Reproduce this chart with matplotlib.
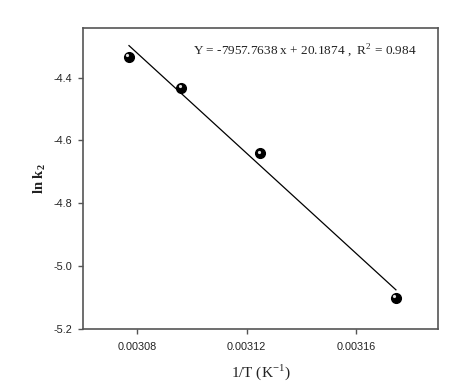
import numpy as np
import matplotlib
matplotlib.use("Agg")
import matplotlib.pyplot as plt
from matplotlib.transforms import offset_copy
from matplotlib.ticker import FixedLocator, FormatStrFormatter

# data
inv_T = [1 / 325, 1 / 323, 1 / 320, 1 / 315]
ln_k2 = [-4.333, -4.432, -4.640, -5.100]

# fit printed on the chart
slope = -7957.7638
intercept = 20.1874
r2 = 0.984

x_ticks = [0.00308, 0.00312, 0.00316]
y_ticks = [-5.2, -5.0, -4.8, -4.6, -4.4]

serif = "Liberation Serif"
sans = "Liberation Sans"
frame_col = "#555555"

fig = plt.figure(figsize=(4.74, 3.86), dpi=100)
ax = fig.add_axes([83 / 474, 1 - 329 / 386, (438 - 83) / 474, (329 - 28) / 386])

# regression line from first to last point
x_fit = np.array([min(inv_T), max(inv_T)])
ax.plot(x_fit, slope * x_fit + intercept, color="black", lw=0.9, zorder=2)

# shaded "ball" markers: black disc + small highlight
ax.plot(inv_T, ln_k2, "o", ms=7, color="black", mec="black", zorder=3)
hl = offset_copy(ax.transData, fig=fig, x=-1.1, y=1.1, units="points")
ax.plot(inv_T, ln_k2, "o", ms=2.3, color="#e0e0e0", mec="none",
        transform=hl, zorder=4)

ax.set_xlim(0.0030601, 0.00319)
ax.set_ylim(-5.2, -4.242)
ax.xaxis.set_major_locator(FixedLocator(x_ticks))
ax.yaxis.set_major_locator(FixedLocator(y_ticks))
ax.xaxis.set_major_formatter(FormatStrFormatter("%.5f"))
ax.yaxis.set_major_formatter(FormatStrFormatter("%.1f"))

for s in ax.spines.values():
    s.set_color(frame_col)
    s.set_linewidth(1.2)
ax.tick_params(direction="out", length=3.5, width=1, color=frame_col,
               labelsize=7.8, pad=4)
for lab in ax.get_xticklabels() + ax.get_yticklabels():
    lab.set_fontfamily(sans)
    lab.set_color("#222222")
ax.tick_params(axis="x", pad=6)

ax.set_xlabel(r"1/T (K$^{\mathregular{-1}}$)", fontfamily=serif, fontsize=11,
              labelpad=7, color="#222222")
ax.set_ylabel(r"ln k$_{\mathregular{2}}$", fontfamily=serif, fontsize=10.5,
              fontweight="bold", labelpad=4, color="#222222")

ax.text(0.94, 0.925,
        f"Y = {slope:.4f} x + {intercept:.4f} ,  R$^{{\\mathregular{{2}}}}$ = {r2:.3f}",
        transform=ax.transAxes, ha="right", va="center",
        fontfamily=serif, fontsize=9.5, color="#222222")

fig.savefig("out.png", dpi=100)
